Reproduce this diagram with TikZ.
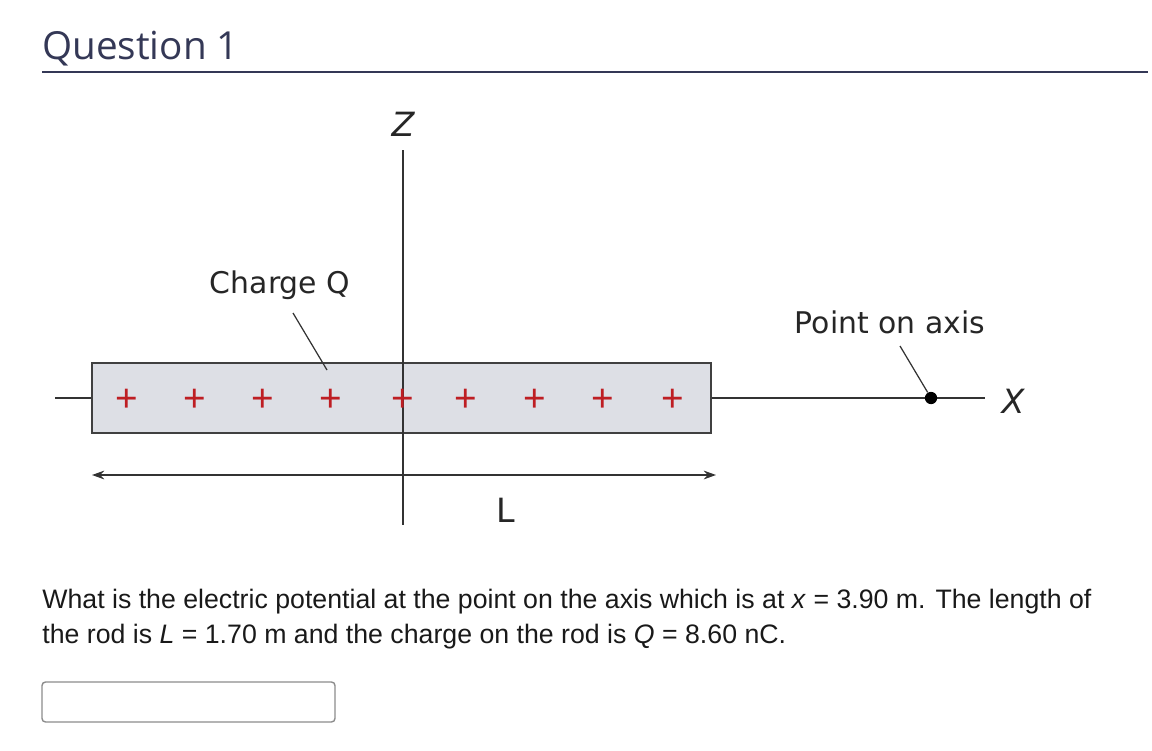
\documentclass[tikz,border=0pt]{standalone}
\usepackage{fontspec}
\setmainfont{Liberation Sans}
\newfontfamily\titlefont{Open Sans}
\newfontfamily\diafont{DejaVu Sans}
\usetikzlibrary{arrows.meta}
\definecolor{titlec}{RGB}{52,56,86}
\definecolor{rodfill}{RGB}{221,223,229}
\definecolor{plusc}{RGB}{190,30,35}
\tikzset{x=0.02cm,y=-0.02cm,
 lab/.style={font=\diafont\fontsize{17}{19}\selectfont,inner sep=0,text=black!85},
 plus/.style={text=plusc,font=\fontsize{22}{22}\selectfont,inner sep=0},
 ln/.style={line width=0.8pt,black!80}}
\begin{document}
\begin{tikzpicture}
\useasboundingbox (0,0) rectangle (1152,750);
\node[anchor=base west,inner sep=0,text=titlec,font=\titlefont\fontsize{22}{24}\selectfont] (title) at (42,60) {Question 1};
\draw[titlec,line width=1.3pt] (42,72) coordinate (r1) -- (1148,72) coordinate (r2);
% rod
\node[draw=black!75,fill=rodfill,line width=0.9pt,minimum width=619*0.02cm,minimum height=70*0.02cm,inner sep=0] (rod) at (401.5,398) {};
\coordinate (al) at (55,398);
\coordinate (ar) at (985,398);
\draw[ln] (al) -- (rod.west);
\draw[ln] (rod.east) -- (ar);
\coordinate (zt) at (403,150);
\coordinate (zb) at (403,525);
\draw[ln] (zt) -- (zb);
\node[lab,font=\diafont\fontsize{19}{20}\selectfont\itshape] (Z) at (403,124) {Z};
\foreach \x [count=\i] in {127,195,263,331,403,466,535,603,673}
  \node[plus] (p\i) at (\x,400) {+};
\coordinate (dl) at (92,475);
\coordinate (dr) at (716,475);
\draw[ln,{Stealth[length=7pt,width=5pt]}-{Stealth[length=7pt,width=5pt]}] (dl) -- (dr);
\node[lab,font=\diafont\fontsize{19}{20}\selectfont] (L) at (506,510) {L};
\node[lab] (cq) at (280,285) {Charge Q};
\coordinate (cqe) at (327,370);
\draw[ln,line width=0.7pt] (293,313) -- (cqe);
\node[lab] (pa) at (890,322) {Point on axis};
\node[circle,fill=black,inner sep=0,minimum size=7pt] (pt) at (931,398) {};
\draw[ln,line width=0.7pt] (900,346) -- (pt);
\node[lab,font=\diafont\fontsize{19}{20}\selectfont\itshape] (X) at (1013,401) {X};
\node[anchor=north west,inner sep=0,font=\fontsize{15.2}{19.9}\selectfont,align=left,text=black!90] (q) at (42,589) {What is the electric potential at the point on the axis which is at \textit{x} = 3.90 m. The length of\\the rod is \textit{L} = 1.70 m and the charge on the rod is \textit{Q} = 8.60 nC.};
\draw[black!45,line width=0.8pt,rounded corners=2pt] (42,682) rectangle (335,722);
\end{tikzpicture}
\end{document}
